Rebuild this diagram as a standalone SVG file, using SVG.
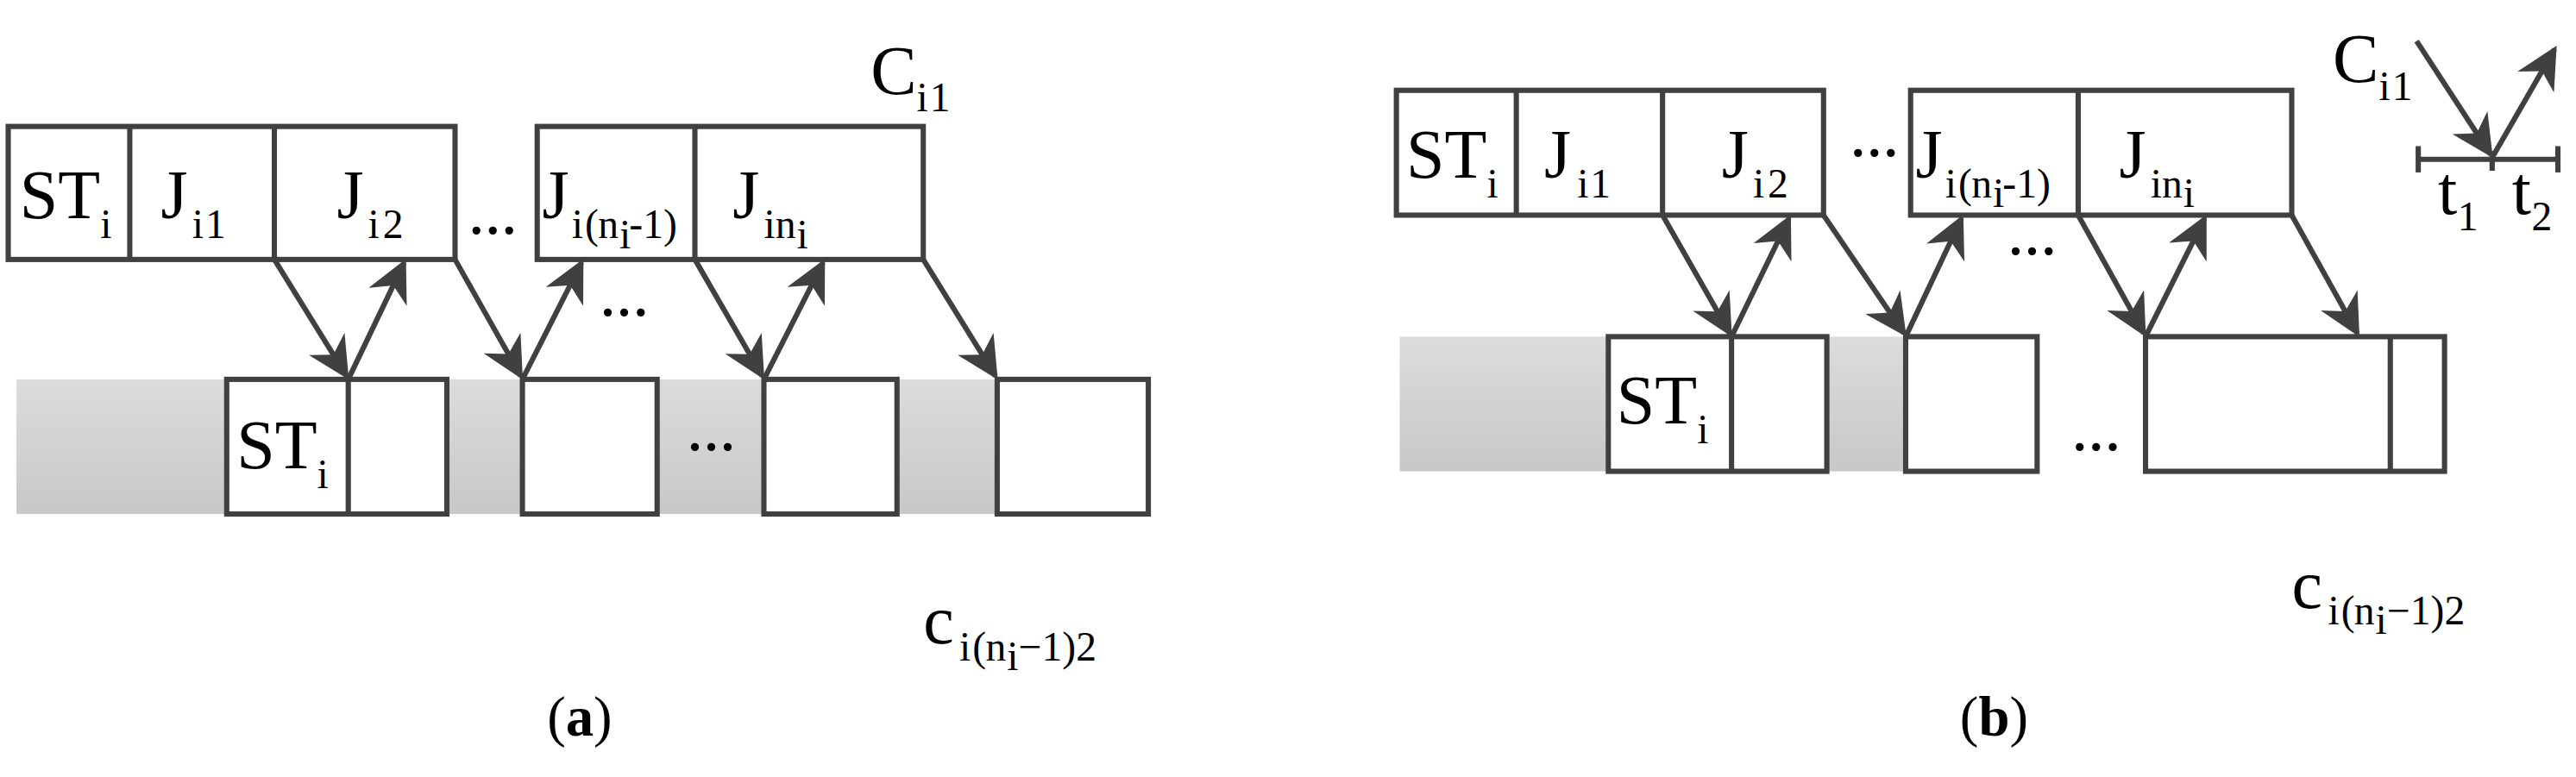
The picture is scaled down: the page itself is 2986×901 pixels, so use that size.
<svg xmlns="http://www.w3.org/2000/svg" width="2986" height="901" viewBox="0 0 2986 901">
<style>
.b{fill:#fff;stroke:#404040;stroke-width:3.2}
.l{stroke:#404040;stroke-width:3.2;fill:none}
text{font-family:"Liberation Serif","Times New Roman",serif;fill:#000}
.m{font-size:42px}
.s{font-size:25px}
.n{font-size:25px}
.d{font-size:30px;font-weight:bold}
.cap{font-size:34px}
</style>
<defs>
<linearGradient id="g" x1="0" y1="0" x2="0" y2="1"><stop offset="0" stop-color="#dcdcdc"/><stop offset="1" stop-color="#c8c8c8"/></linearGradient>
<marker id="ah" viewBox="0 0 10 10" refX="9" refY="5" markerWidth="8" markerHeight="8" orient="auto"><path d="M0,0 L10,5 L0,10 L3,5 z" fill="#404040"/></marker>
</defs>
<rect width="2986" height="901" fill="#fff"/>
<g transform="scale(1.9043)">
<!-- panel a -->
<rect x="10" y="231" width="690" height="82" fill="url(#g)"/>
<g id="a-top1"><rect class="b" x="5" y="77" width="272" height="81"/><line class="l" x1="79" y1="77" x2="79" y2="158"/><line class="l" x1="167" y1="77" x2="167" y2="158"/>
<text class="m" x="12" y="133">ST</text><text class="s" x="61" y="145">i</text>
<text class="m" x="98" y="133">J</text><text class="s" x="117" y="145">i</text><text class="n" x="125" y="145">1</text>
<text class="m" x="205" y="133">J</text><text class="s" x="224" y="145">i</text><text class="n" x="233" y="145">2</text></g>
<g id="a-top2"><rect class="b" x="327" y="77" width="235" height="81"/><line class="l" x1="423" y1="77" x2="423" y2="158"/>
<text class="m" x="330" y="133">J</text><text class="s" x="348" y="145">i</text><text class="n" x="356" y="145">(</text><text class="s" x="364" y="145">n</text><text class="s" x="377" y="151" font-size="15">i</text><text class="n" x="383" y="145">-1)</text>
<text class="m" x="446" y="133">J</text><text class="s" x="465" y="145">in</text><text class="s" x="485" y="151" font-size="15">i</text></g>
<text class="d" x="285" y="150">···</text>
<g id="a-b1"><rect class="b" x="138" y="231" width="134" height="82"/><line class="l" x1="212" y1="231" x2="212" y2="313"/><text class="m" x="144" y="285">ST</text><text class="s" x="193" y="297">i</text></g>
<g id="a-b2"><rect class="b" x="318" y="231" width="82" height="82"/></g>
<g id="a-b3"><rect class="b" x="465" y="231" width="81" height="82"/></g>
<g id="a-b4"><rect class="b" x="607" y="231" width="92" height="82"/></g>
<text class="d" x="365" y="200">···</text>
<text class="d" x="418" y="282">···</text>
<g id="a-conn">
<line class="l" x1="167" y1="158" x2="211" y2="229" marker-end="url(#ah)"/>
<line class="l" x1="212" y1="231" x2="246" y2="160" marker-end="url(#ah)"/>
<line class="l" x1="277" y1="158" x2="317" y2="229" marker-end="url(#ah)"/>
<line class="l" x1="318" y1="231" x2="354" y2="160" marker-end="url(#ah)"/>
<line class="l" x1="423" y1="158" x2="464" y2="229" marker-end="url(#ah)"/>
<line class="l" x1="465" y1="231" x2="501" y2="160" marker-end="url(#ah)"/>
<line class="l" x1="562" y1="158" x2="606" y2="229" marker-end="url(#ah)"/>
</g>
<text class="m" x="530" y="57">C</text><text class="s" x="558" y="68">i</text><text class="n" x="566" y="68">1</text>
<text class="m" x="562" y="392">c</text><text class="s" x="584" y="402">i</text><text class="n" x="592" y="402">(</text><text class="s" x="600" y="402">n</text><text class="s" x="613" y="408" font-size="15">i</text><text class="n" x="620" y="402">−1)2</text>
<text class="cap" x="333" y="448">(<tspan font-weight="bold">a</tspan>)</text>
<!-- panel b -->
<rect x="852" y="205" width="308" height="82" fill="url(#g)"/>
<g id="b-top1"><rect class="b" x="850" y="55" width="260" height="76"/><line class="l" x1="923" y1="55" x2="923" y2="131"/><line class="l" x1="1012" y1="55" x2="1012" y2="131"/>
<text class="m" x="856" y="108">ST</text><text class="s" x="905" y="120">i</text>
<text class="m" x="940" y="108">J</text><text class="s" x="960" y="120">i</text><text class="n" x="968" y="120">1</text>
<text class="m" x="1048" y="108">J</text><text class="s" x="1067" y="120">i</text><text class="n" x="1076" y="120">2</text></g>
<g id="b-top2"><rect class="b" x="1163" y="55" width="232" height="76"/><line class="l" x1="1265" y1="55" x2="1265" y2="131"/>
<text class="m" x="1166" y="108">J</text><text class="s" x="1184" y="120">i</text><text class="n" x="1192" y="120">(</text><text class="s" x="1200" y="120">n</text><text class="s" x="1213" y="126" font-size="15">i</text><text class="n" x="1219" y="120">-1)</text>
<text class="m" x="1290" y="108">J</text><text class="s" x="1309" y="120">in</text><text class="s" x="1329" y="126" font-size="15">i</text></g>
<text class="d" x="1126" y="103">···</text>
<g id="b-b1"><rect class="b" x="979" y="205" width="133" height="82"/><line class="l" x1="1054" y1="205" x2="1054" y2="287"/><text class="m" x="984" y="258">ST</text><text class="s" x="1033" y="270">i</text></g>
<g id="b-b2"><rect class="b" x="1160" y="205" width="80" height="82"/></g>
<g id="b-b3"><rect class="b" x="1306" y="205" width="182" height="82"/><line class="l" x1="1455" y1="205" x2="1455" y2="287"/></g>
<text class="d" x="1222" y="163">···</text>
<text class="d" x="1261" y="282">···</text>
<g id="b-conn">
<line class="l" x1="1012" y1="131" x2="1053" y2="203" marker-end="url(#ah)"/>
<line class="l" x1="1054" y1="205" x2="1089" y2="133" marker-end="url(#ah)"/>
<line class="l" x1="1110" y1="131" x2="1159" y2="203" marker-end="url(#ah)"/>
<line class="l" x1="1160" y1="205" x2="1194" y2="133" marker-end="url(#ah)"/>
<line class="l" x1="1265" y1="131" x2="1305" y2="203" marker-end="url(#ah)"/>
<line class="l" x1="1306" y1="205" x2="1342" y2="133" marker-end="url(#ah)"/>
<line class="l" x1="1395" y1="131" x2="1435" y2="203" marker-end="url(#ah)"/>
<line class="l" x1="1471" y1="25" x2="1516" y2="94" marker-end="url(#ah)"/>
<line class="l" x1="1517" y1="96" x2="1555" y2="30" marker-end="url(#ah)"/>
<line class="l" x1="1472" y1="97" x2="1557" y2="97"/>
<line class="l" x1="1472" y1="89" x2="1472" y2="105"/>
<line class="l" x1="1517" y1="92" x2="1517" y2="104"/>
<line class="l" x1="1557" y1="89" x2="1557" y2="105"/>
</g>
<text class="m" x="1420" y="50">C</text><text class="s" x="1448" y="61">i</text><text class="n" x="1456" y="61">1</text>
<text class="m" x="1484" y="130">t</text><text class="n" x="1496" y="140">1</text>
<text class="m" x="1529" y="130">t</text><text class="n" x="1541" y="140">2</text>
<text class="m" x="1395" y="370">c</text><text class="s" x="1417" y="380">i</text><text class="n" x="1425" y="380">(</text><text class="s" x="1433" y="380">n</text><text class="s" x="1446" y="386" font-size="15">i</text><text class="n" x="1453" y="380">−1)2</text>
<text class="cap" x="1193" y="448">(<tspan font-weight="bold">b</tspan>)</text>
</g>
</svg>
